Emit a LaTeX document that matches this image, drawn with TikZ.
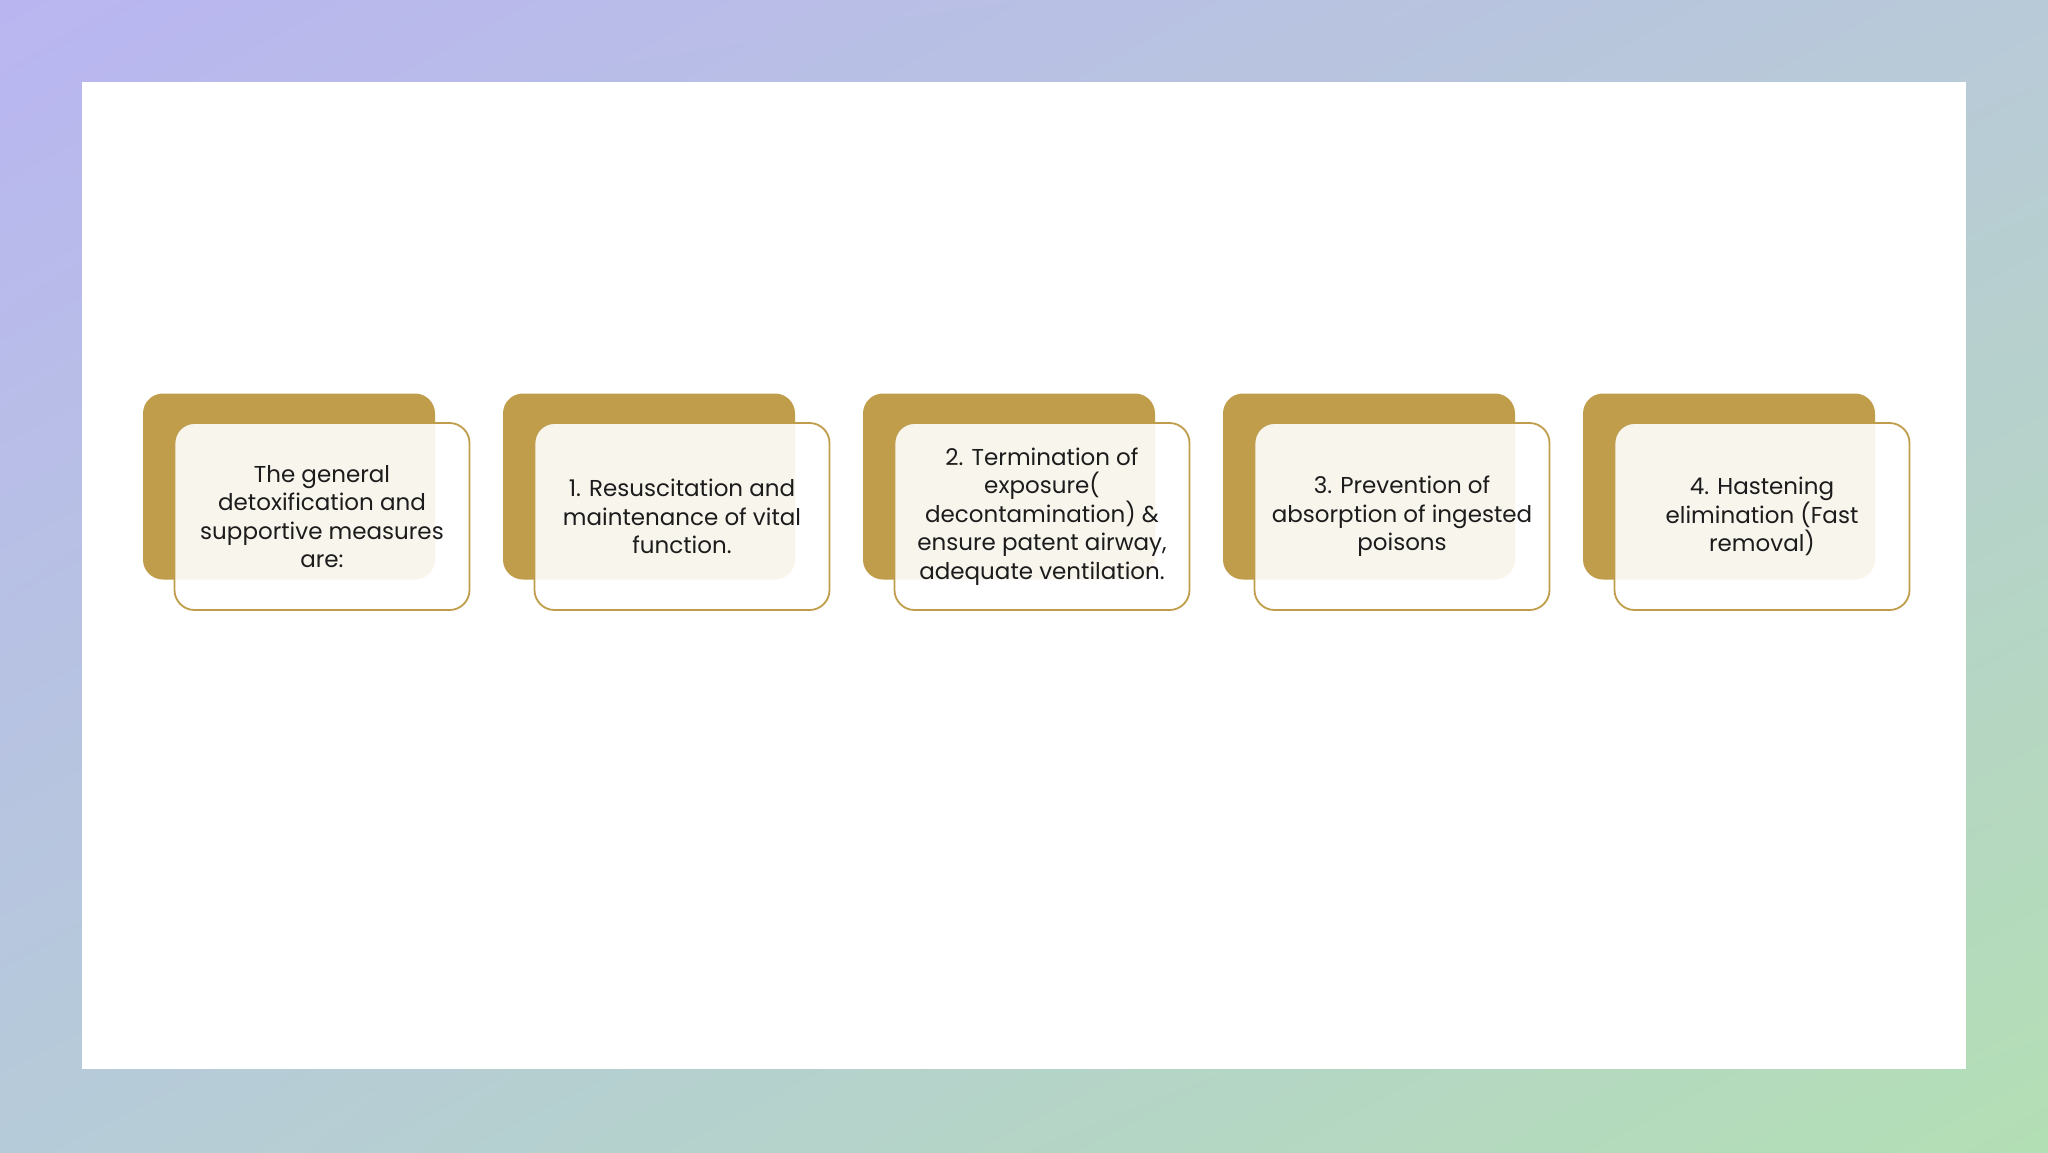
\documentclass[tikz,border=0pt]{standalone}
\usepackage{fontspec}
\usetikzlibrary{shadings}
\setmainfont{Poppins}
\definecolor{gold}{HTML}{C09D4A}
\definecolor{bgviolet}{HTML}{B9B5F1}
\definecolor{bgblue}{HTML}{B8CAD8}
\definecolor{bgteal}{HTML}{B6CBD9}
\definecolor{bggreen}{HTML}{B3DFB4}
\definecolor{ink}{HTML}{1C1C1C}
\tikzset{
  back/.style={fill=gold, rounded corners=10pt, minimum width=146pt, minimum height=93pt, inner sep=0pt},
  card/.style={draw=gold, line width=0.9pt, fill=white, fill opacity=0.9, text opacity=1, rounded corners=10pt,
    minimum width=147.5pt, minimum height=93.5pt, inner sep=0pt, align=center, text=ink,
    font=\fontsize{11.5}{14.2}\selectfont}
}
\begin{document}
\begin{tikzpicture}[x=0.5pt,y=-0.5pt]
\useasboundingbox (0,0) rectangle (2048,1152);
\shade[upper left=bgviolet, upper right=bgblue, lower left=bgteal, lower right=bggreen] (0,0) rectangle (2048,1152);
\fill[white] (82,82) rectangle (1966,1069);

% back plates
\node[back] (b0) at (289,486.5) {};
\node[back] (b1) at (649,486.5) {};
\node[back] (b2) at (1009,486.5) {};
\node[back] (b3) at (1369,486.5) {};
\node[back] (b4) at (1729,486.5) {};

% cards
\node[card] (c0) at (322,516.5) {The general\\detoxification and\\supportive measures\\are:};
\node[card] (c1) at (682,516.5) {1. Resuscitation and\\maintenance of vital\\function.};
\node[card] (c2) at (1042,516.5) {2. Termination of\\exposure(\\decontamination) \&\\ensure patent airway,\\adequate ventilation.};
\node[card] (c3) at (1402,516.5) {3. Prevention of\\absorption of ingested\\poisons};
\node[card] (c4) at (1762,516.5) {4. Hastening\\elimination (Fast\\removal)};
\end{tikzpicture}
\end{document}
